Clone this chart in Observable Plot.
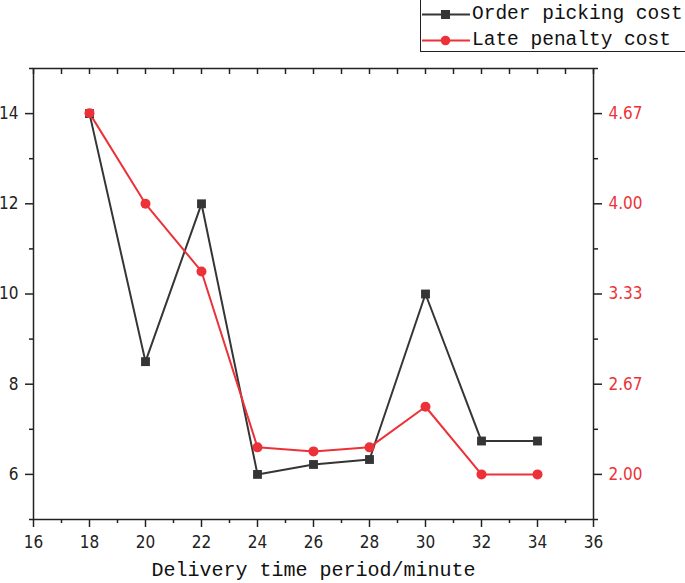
<!DOCTYPE html>
<html>
<head>
<meta charset="utf-8">
<script src="https://cdn.jsdelivr.net/npm/d3@7"></script>
<script src="https://cdn.jsdelivr.net/npm/@observablehq/plot@0.6"></script>
<style>
  html, body { margin: 0; padding: 0; background: #fff; overflow: hidden; }
  #wrap { position: relative; width: 685px; height: 583px; overflow: hidden; }
  #legend { position: absolute; left: 420px; top: -2px; width: 290px; height: 54px;
    border: 1.5px solid #222; background: #fff; font-family: "Liberation Mono", "DejaVu Sans Mono", monospace;
    font-size: 19.5px; color: #111; box-sizing: border-box; }
  .row { position: absolute; left: 0; height: 26px; display: flex; align-items: center; white-space: nowrap; }
  .row svg { display: block; margin-right: 1px; }
</style>
</head>
<body>
<div id="wrap"><div id="chart"></div><div id="legend"></div></div>
<script>
// Data
const periods = [18, 20, 22, 24, 26, 28, 30, 32, 34];
const pickingCost = [14, 8.5, 12, 6.0, 6.22, 6.33, 10, 6.74, 6.74];
const latePenalty = [4.67, 4.00, 3.50, 2.20, 2.17, 2.20, 2.50, 2.00, 2.00];
const seriesNames = ["Order picking cost", "Late penalty cost"];
const seriesColors = ["#353535", "#ec3238"];
const xTicks = [16, 18, 20, 22, 24, 26, 28, 30, 32, 34, 36];
const xMinor = [17, 19, 21, 23, 25, 27, 29, 31, 33, 35];
const yTicks = [6, 8, 10, 12, 14];
const yMinor = [5, 7, 9, 11, 13, 15];
const rightScale = 3; // right axis value = left value / 3
const xTitle = "Delivery time period/minute";

const picking = periods.map((p, i) => ({x: p, y: pickingCost[i]}));
const late = periods.map((p, i) => ({x: p, y: latePenalty[i] * rightScale}));

const tickFont = "'Liberation Sans Narrow', 'DejaVu Sans Condensed', 'Liberation Sans', sans-serif";

const chart = Plot.plot({
  width: 685,
  height: 583,
  marginLeft: 33,
  marginRight: 92,
  marginTop: 68,
  marginBottom: 64,
  x: {domain: [16, 36]},
  y: {domain: [5, 15]},
  style: {fontFamily: tickFont, fontSize: "17px", color: "#222", background: "#fff"},
  marks: [
    Plot.axisX({ticks: xTicks, tickSize: 8, tickPadding: 8, label: null, stroke: "#222", strokeWidth: 1.5}),
    Plot.axisX({ticks: xMinor, tickSize: 4, text: null, label: null, stroke: "#222", strokeWidth: 1.5}),
    Plot.axisX({anchor: "top", ticks: [...xTicks, ...xMinor], tickSize: -5, text: null, label: null, stroke: "#222", strokeWidth: 1.5}),
    Plot.axisY({ticks: yTicks, tickSize: 8, tickPadding: 7, label: null, stroke: "#222", strokeWidth: 1.5}),
    Plot.axisY({ticks: yMinor, tickSize: 4, text: null, label: null, stroke: "#222", strokeWidth: 1.5}),
    Plot.axisY({anchor: "right", ticks: yTicks, tickSize: 8, text: null, label: null, stroke: "#222", strokeWidth: 1.5}),
    Plot.axisY({anchor: "right", ticks: yMinor, tickSize: 4, text: null, label: null, stroke: "#222", strokeWidth: 1.5}),
    Plot.axisY({anchor: "right", ticks: yTicks, tickSize: 0, tickPadding: 15, label: null,
      tickFormat: d => (d / rightScale).toFixed(2), fill: seriesColors[1]}),
    Plot.frame({stroke: "#222", strokeWidth: 1.5}),
    Plot.text([xTitle], {frameAnchor: "bottom", dy: 56, fontSize: 20,
      fontFamily: "'Liberation Mono', 'DejaVu Sans Mono', monospace", fill: "#111"}),
    Plot.line(picking, {x: "x", y: "y", stroke: seriesColors[0], strokeWidth: 2}),
    Plot.line(late, {x: "x", y: "y", stroke: seriesColors[1], strokeWidth: 2}),
    Plot.dot(picking, {x: "x", y: "y", symbol: "square", r: 5, fill: seriesColors[0], stroke: "none"}),
    Plot.dot(late, {x: "x", y: "y", symbol: "circle", r: 5, fill: seriesColors[1], stroke: "none"})
  ]
});
document.getElementById("chart").appendChild(chart);

// Legend
const legend = document.getElementById("legend");
seriesNames.forEach((name, i) => {
  const row = document.createElement("div");
  row.className = "row";
  row.style.top = (i === 0 ? 2 : 28) + "px";
  const marker = i === 0
    ? `<rect x="20" y="6" width="9" height="9" fill="${seriesColors[i]}"/>`
    : `<circle cx="24.5" cy="10.5" r="4.8" fill="${seriesColors[i]}"/>`;
  row.innerHTML = `<svg width="50" height="21"><line x1="1" y1="10.5" x2="49" y2="10.5" stroke="${seriesColors[i]}" stroke-width="2"/>${marker}</svg><span>${name}</span>`;
  legend.appendChild(row);
});
</script>
</body>
</html>
